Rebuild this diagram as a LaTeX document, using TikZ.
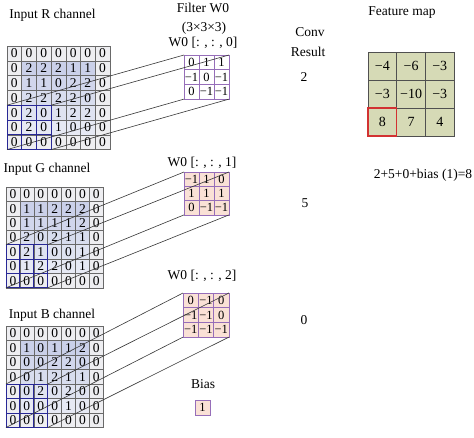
\documentclass[tikz,border=0pt]{standalone}
\usepackage{fontspec}
\setmainfont{Liberation Serif}
\definecolor{gtop}{RGB}{202,208,233}
\definecolor{gbot}{RGB}{230,233,244}
\definecolor{gedge}{RGB}{238,238,241}
\definecolor{gline}{RGB}{105,105,105}
\definecolor{bbox}{RGB}{40,40,150}
\definecolor{fline}{RGB}{150,110,185}
\definecolor{fpink}{RGB}{250,225,214}
\definecolor{fmap}{RGB}{214,218,182}
\definecolor{fmline}{RGB}{80,80,80}
\definecolor{fred}{RGB}{210,50,50}
\definecolor{cline}{RGB}{55,55,55}
\tikzset{
  cell/.style={draw=gline, line width=0.5pt, inner sep=0pt, outer sep=0pt,
    font=\fontsize{13.5}{13.5}\selectfont},
  fcell/.style={draw=fline, line width=0.7pt, inner sep=0pt, outer sep=0pt,
    font=\fontsize{12.5}{12.5}\selectfont},
  mcell/.style={draw=fmline, line width=0.8pt, fill=fmap, inner sep=0pt, outer sep=0pt,
    font=\fontsize{14}{14}\selectfont},
  bluecell/.style={draw=bbox, line width=0.9pt},
  redcell/.style={draw=fred, line width=1.2pt},
  conn/.style={draw=cline, line width=0.6pt},
  lab/.style={inner sep=0pt, font=\fontsize{13.5}{13.5}\selectfont},
}
% input grid: #1 name, #2 x0, #3 y0, #4 cell w, #5 cell h, #6 rows
\newcommand\ingrid[6]{%
  \foreach \row [count=\i from 0] in {#6} {
    \foreach \v [count=\j from 0] in \row {
      \pgfmathtruncatemacro\edgecell{(\i==0)||(\i==6)||(\j==0)||(\j==6)}
      \ifnum\edgecell=1 \def\cf{gedge}\else
        \pgfmathtruncatemacro\pp{(\i-1)*25}\edef\cf{gbot!\pp!gtop}\fi
      \node[cell, fill=\cf, minimum width=#4pt, minimum height=#5pt]
        (#1-\i-\j) at ({#2+(\j+0.5)*#4},{#3+(\i+0.5)*#5}) {\v};
    }
  }
  \foreach \i in {4,5,6} \foreach \j in {0,1,2}
    \draw[bluecell] (#1-\i-\j.north west) rectangle (#1-\i-\j.south east);
}
% filter grid: #1 name, #2 x0, #3 y0, #4 w, #5 h, #6 fill, #7 rows
\newcommand\fgrid[7]{%
  \foreach \row [count=\i from 0] in {#7} {
    \foreach \v [count=\j from 0] in \row {
      \node[fcell, fill=#6, minimum width=#4pt, minimum height=#5pt]
        (#1-\i-\j) at ({#2+(\j+0.5)*#4},{#3+(\i+0.5)*#5}) {\v};
    }
  }
}
\newcommand\connect[2]{%
  \draw[conn] (#1-4-0.north west) -- (#2-0-0.north west);
  \draw[conn] (#1-4-2.north east) -- (#2-0-2.north east);
  \draw[conn] (#1-6-0.south west) -- (#2-2-0.south west);
  \draw[conn] (#1-6-2.south east) -- (#2-2-2.south east);
}
\begin{document}
\begin{tikzpicture}[x=1pt,y=-1pt]
\useasboundingbox[fill=white] (0,0) rectangle (474,437);

% labels
\node[lab] (tR) at (52.5,15) {Input R channel};
\node[lab] (tG) at (47,169) {Input G channel};
\node[lab] (tB) at (52,315) {Input B channel};
\node[lab] (tF) at (203,8) {Filter W0};
\node[lab] (tD) at (204,28) {(3×3×3)};
\node[lab] (tW0) at (203,43) {W0 [: , : , 0]};
\node[lab] (tW1) at (202,163) {W0 [: , : , 1]};
\node[lab] (tW2) at (202,276) {W0 [: , : , 2]};
\node[lab] (tC) at (310,32) {Conv};
\node[lab] (tRes) at (308,52) {Result};
\node[lab] (r0) at (304,77) {2};
\node[lab] (r1) at (305,203) {5};
\node[lab] (r2) at (304,320) {0};
\node[lab] (tM) at (402,13) {Feature map};
\node[lab] (tSum) at (423,175) {2+5+0+bias (1)=8};
\node[lab] (tBias) at (203,384) {Bias};

% input grids
\ingrid{R}{7}{46}{14.7}{14.8}{{0,0,0,0,0,0,0},{0,2,2,2,1,1,0},{0,1,1,0,2,2,0},{0,2,2,2,2,0,0},{0,2,0,1,2,2,0},{0,2,0,1,0,0,0},{0,0,0,0,0,0,0}}
\ingrid{G}{6}{187}{13.9}{14.4}{{0,0,0,0,0,0,0},{0,1,1,2,2,2,0},{0,1,1,1,1,2,0},{0,2,0,2,1,1,0},{0,2,1,0,0,1,0},{0,1,2,2,0,1,0},{0,0,0,0,0,0,0}}
\ingrid{B}{6}{326}{13.9}{14.5}{{0,0,0,0,0,0,0},{0,1,0,1,1,2,0},{0,0,0,2,2,0,0},{0,0,1,2,1,1,0},{0,0,2,0,2,0,0},{0,0,0,0,1,0,0},{0,0,0,0,0,0,0}}

% filters
\fgrid{F0}{184}{55}{15}{14.7}{white}{{0,1,1},{−1,0,−1},{0,−1,−1}}
\fgrid{F1}{184}{172}{15}{14.3}{fpink}{{−1,1,0},{1,1,1},{0,−1,−1}}
\fgrid{F2}{183}{293}{15.3}{14.7}{fpink}{{0,−1,0},{−1,−1,0},{−1,−1,−1}}

% bias
\node[fcell, fill=fpink, minimum width=15pt, minimum height=15pt] (bias) at (202.5,407.5) {1};

% feature map
\foreach \row [count=\i from 0] in {{−4,−6,−3},{−3,−10,−3},{8,7,4}} {
  \foreach \v [count=\j from 0] in \row {
    \node[mcell, minimum width=28.7pt, minimum height=28pt]
      (M-\i-\j) at ({368+(\j+0.5)*28.7},{52+(\i+0.5)*28}) {\v};
  }
}
\draw[redcell] (M-2-0.north west) rectangle (M-2-0.south east);

% connectors
\connect{R}{F0}
\connect{G}{F1}
\connect{B}{F2}
\end{tikzpicture}
\end{document}
